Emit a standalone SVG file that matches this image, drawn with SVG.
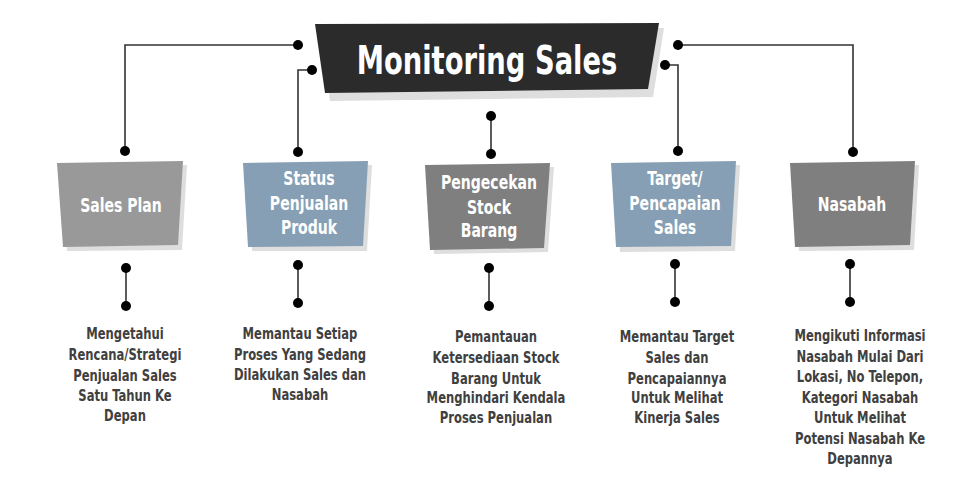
<svg xmlns="http://www.w3.org/2000/svg" width="980" height="484" viewBox="0 0 980 484">
<style>
.bg{fill:#ffffff}
.shadow{fill:#dedede}
.gray1{fill:#999999}
.gray2{fill:#7f7f7f}
.blue{fill:#869fb4}
.title{fill:#2b2b2b}
.lbl{font-family:"DejaVu Sans Condensed","DejaVu Sans",sans-serif;font-weight:bold;font-size:20px;fill:#ffffff;text-anchor:middle}
.ttl{font-family:"DejaVu Sans Condensed","DejaVu Sans",sans-serif;font-weight:bold;font-size:39px;fill:#ffffff;text-anchor:middle}
.desc{font-family:"DejaVu Sans Condensed","DejaVu Sans",sans-serif;font-weight:bold;font-size:16.5px;fill:#404040;text-anchor:middle}
.ln{stroke:#333333;stroke-width:1.6;fill:none}
.dot{fill:#000000}
</style>
<rect class="bg" x="0" y="0" width="980" height="484"/>

<g id="title">
<polygon class="shadow" points="320,31 664,28 653,97 330,101"/>
<polygon class="title" points="315,24 659,23 648,89 325,93"/>
<g transform="translate(107.14,0) scale(0.78,1)">
<text class="ttl" x="487" y="74">Monitoring Sales</text>
</g>
</g>

<g id="node-sales-plan">
<polygon class="shadow" points="61,167 187,165 182,250 67,251"/>
<polygon class="gray1" points="57,163 183,161 178,245 63,247"/>
<g transform="translate(26.62,0) scale(0.78,1)">
<text class="lbl" x="121" y="212">Sales Plan</text>
</g>
</g>

<g id="node-status">
<polygon class="shadow" points="247,167 372,165 367,251 252,251"/>
<polygon class="blue" points="243,163 368,161 363,246 248,247"/>
<g transform="translate(67.98,0) scale(0.78,1)">
<text class="lbl" x="309" y="185">Status</text>
<text class="lbl" x="309" y="210">Penjualan</text>
<text class="lbl" x="309" y="234">Produk</text>
</g>
</g>

<g id="node-stock">
<polygon class="shadow" points="429,169 554,167 548,252 434,254"/>
<polygon class="gray2" points="425,165 550,163 544,248 430,250"/>
<g transform="translate(107.58,0) scale(0.78,1)">
<text class="lbl" x="489" y="189">Pengecekan</text>
<text class="lbl" x="489" y="214">Stock</text>
<text class="lbl" x="489" y="237">Barang</text>
</g>
</g>

<g id="node-target">
<polygon class="shadow" points="615,167 740,165 735,251 620,252"/>
<polygon class="blue" points="611,163 736,161 731,246 616,247"/>
<g transform="translate(148.5,0) scale(0.78,1)">
<text class="lbl" x="675" y="185">Target/</text>
<text class="lbl" x="675" y="210">Pencapaian</text>
<text class="lbl" x="675" y="234">Sales</text>
</g>
</g>

<g id="node-nasabah">
<polygon class="shadow" points="794,167 919,165 914,250 799,251"/>
<polygon class="gray2" points="790,163 915,161 910,245 795,247"/>
<g transform="translate(187.44,0) scale(0.78,1)">
<text class="lbl" x="852" y="211">Nasabah</text>
</g>
</g>

<g id="connectors">
<polyline class="ln" points="298,45 125,45 125,151"/>
<polyline class="ln" points="312,70 298,70 298,152"/>
<polyline class="ln" points="491,116 491,154"/>
<polyline class="ln" points="665,65 678,65 678,151"/>
<polyline class="ln" points="678,45 853,45 853,152"/>
<polyline class="ln" points="126,268 126,306"/>
<polyline class="ln" points="298,265 298,303"/>
<polyline class="ln" points="489,268 489,306"/>
<polyline class="ln" points="675,264 675,302"/>
<polyline class="ln" points="850,264 850,302"/>
<circle class="dot" cx="298" cy="45" r="5"/>
<circle class="dot" cx="125" cy="151" r="5"/>
<circle class="dot" cx="312" cy="70" r="5"/>
<circle class="dot" cx="298" cy="152" r="5"/>
<circle class="dot" cx="491" cy="116" r="5"/>
<circle class="dot" cx="491" cy="154" r="5"/>
<circle class="dot" cx="665" cy="65" r="5"/>
<circle class="dot" cx="678" cy="151" r="5"/>
<circle class="dot" cx="678" cy="45" r="5"/>
<circle class="dot" cx="853" cy="152" r="5"/>
<circle class="dot" cx="126" cy="268" r="5"/>
<circle class="dot" cx="126" cy="306" r="5"/>
<circle class="dot" cx="298" cy="265" r="5"/>
<circle class="dot" cx="298" cy="303" r="5"/>
<circle class="dot" cx="489" cy="268" r="5"/>
<circle class="dot" cx="489" cy="306" r="5"/>
<circle class="dot" cx="675" cy="264" r="5"/>
<circle class="dot" cx="675" cy="302" r="5"/>
<circle class="dot" cx="850" cy="264" r="5"/>
<circle class="dot" cx="850" cy="302" r="5"/>
</g>

<g id="desc-sales-plan" transform="translate(27.5,0) scale(0.78,1)">
<text class="desc" x="125" y="339">Mengetahui</text>
<text class="desc" x="125" y="360">Rencana/Strategi</text>
<text class="desc" x="125" y="381">Penjualan Sales</text>
<text class="desc" x="125" y="401">Satu Tahun Ke</text>
<text class="desc" x="125" y="421">Depan</text>
</g>

<g id="desc-status" transform="translate(66,0) scale(0.78,1)">
<text class="desc" x="300" y="339">Memantau Setiap</text>
<text class="desc" x="300" y="360">Proses Yang Sedang</text>
<text class="desc" x="300" y="380">Dilakukan Sales dan</text>
<text class="desc" x="300" y="400">Nasabah</text>
</g>

<g id="desc-stock" transform="translate(109.12,0) scale(0.78,1)">
<text class="desc" x="496" y="342">Pemantauan</text>
<text class="desc" x="496" y="363">Ketersediaan Stock</text>
<text class="desc" x="496" y="384">Barang Untuk</text>
<text class="desc" x="496" y="403">Menghindari Kendala</text>
<text class="desc" x="496" y="423">Proses Penjualan</text>
</g>

<g id="desc-target" transform="translate(148.94,0) scale(0.78,1)">
<text class="desc" x="677" y="342">Memantau Target</text>
<text class="desc" x="677" y="363">Sales dan</text>
<text class="desc" x="677" y="384">Pencapaiannya</text>
<text class="desc" x="677" y="403">Untuk Melihat</text>
<text class="desc" x="677" y="423">Kinerja Sales</text>
</g>

<g id="desc-nasabah" transform="translate(189.2,0) scale(0.78,1)">
<text class="desc" x="860" y="341">Mengikuti Informasi</text>
<text class="desc" x="860" y="362">Nasabah Mulai Dari</text>
<text class="desc" x="860" y="382">Lokasi, No Telepon,</text>
<text class="desc" x="860" y="403">Kategori Nasabah</text>
<text class="desc" x="860" y="423">Untuk Melihat</text>
<text class="desc" x="860" y="444">Potensi Nasabah Ke</text>
<text class="desc" x="860" y="464">Depannya</text>
</g>
</svg>
